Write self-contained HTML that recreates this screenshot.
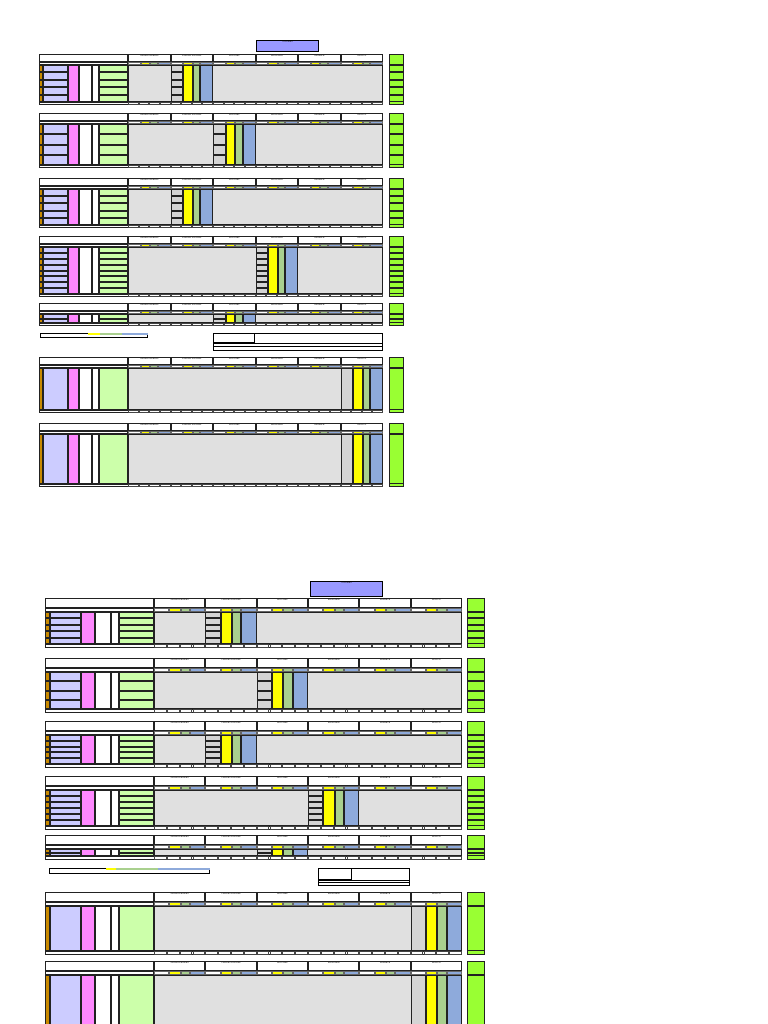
<!DOCTYPE html>
<html><head><meta charset="utf-8"><style>
html,body{margin:0;padding:0;background:#fff;width:768px;height:1024px;overflow:hidden;position:relative;font-family:"Liberation Sans",sans-serif}
div.b{position:absolute;box-sizing:border-box}
</style></head><body>
<script>
function R(x,y,w,h,bg,bd,txt,fs){var d=document.createElement('div');d.className='b';d.style.left=x+'px';d.style.top=y+'px';d.style.width=w+'px';d.style.height=h+'px';if(bg)d.style.background=bg;if(bd)d.style.border=bd;if(txt){d.textContent=txt;d.style.fontSize=(fs||2)+'px';d.style.lineHeight=(fs||2)+'px';d.style.textAlign='center';d.style.overflow='hidden';d.style.color='#333';}document.body.appendChild(d);return d;}
var TITLES=['MEMBERDAYAKAN','STANDAR ESENSIAL','MENYIMAK','BERBICARA','MEMBACA','MENULIS'];
function block(x,y,w,h,rows,hl,gx,gw,s){
 var hdrTop=Math.round(8*s),hdrSub=Math.round(3*s),foot=Math.round(3*s);
 var B='1px solid #222';
 R(x,y,w,h,'#fff',B);
 var fr=[0.012,0.074,0.033,0.038,0.02,0.085];var cols=['#c98a00','#ccccff','#ff88ff','#fff','#fff','#ccffaa'];
 var cx=x,lefts=[];for(var i=0;i<fr.length;i++){var cw=Math.round(fr[i]*w);lefts.push([cx,cw]);cx+=cw;}
 var gx0=cx,gwid=x+w-cx,sw=gwid/6;
 var top=y+hdrTop+hdrSub,bodyH=h-hdrTop-hdrSub-foot;
 R(x,y,gx0-x,hdrTop,'#fff',B);
 for(var k=0;k<6;k++){R(gx0+k*sw,y,sw,hdrTop,'#fff',B,TITLES[k],2);
  var sc=['#fff','#ffff00','#a9d08e','#8eaadb'],sf=[0.3,0.22,0.18,0.3],px=gx0+k*sw;
  for(var j=0;j<4;j++){R(px,y+hdrTop,sw*sf[j],hdrSub,sc[j],'1px solid #666');px+=sw*sf[j];}}
 R(x,y+hdrTop,gx0-x,hdrSub,'#fff',B);
 R(gx0,top,gwid,bodyH,'#e0e0e0',B);
 var rh=bodyH/rows;
 for(var i=0;i<lefts.length;i++){var L=lefts[i];
  if(i==2||i==3||i==4){R(L[0],top,L[1],bodyH,cols[i],B);}
  else{for(var r=0;r<rows;r++)R(L[0],top+r*rh,L[1],rh,cols[i],B);}}
 var hx=gx0+hl*sw;
 var sf2=[0.3,0.22,0.18,0.3],scol=['#d4d4d4','#ffff00','#a9d08e','#8eaadb'],px=hx;
 for(var j=0;j<4;j++){var ww=sw*sf2[j];if(rows>1&&j==0){for(var r=0;r<rows;r++)R(px,top+r*rh,ww,rh,scol[j],B);}else R(px,top,ww,bodyH,scol[j],B);px+=ww;}
 R(x,y+h-foot,w,foot,'#fff',B);
 for(var k=0;k<24;k++)R(gx0+k*sw/4,y+h-foot,sw/4,foot,null,'1px solid #444');
 R(gx,y,gw,h,'#99ff33',B);
 R(gx,y,gw,hdrTop+hdrSub,'#99ff33',B);
 for(var r=0;r<rows;r++)R(gx,top+r*rh,gw,rh,null,B);
}
R(256,40,63,12,'#9999ff','1px solid #000','PENILAIAN',2);
block(39,54,344,51,5,1,389,15,1);
block(39,113,344,55,4,2,389,15,1);
block(39,178,344,50,5,1,389,15,1);
block(39,236,344,61,8,3,389,15,1);
block(39,303,344,23,2,2,389,15,1);
block(39,357,344,56,1,5,389,15,1);
block(39,423,344,64,1,5,389,15,1);
R(40,333,108,5,'#fff','1px solid #000');R(88,333,12,2,'#ffff00');R(100,333,22,2,'#a9d08e');R(122,333,26,2,'#8eaadb');
R(213,333,170,18,'#fff','1px solid #000');R(213,333,42,10,null,'1px solid #000');R(213,343,170,4,null,'1px solid #000');
R(310,581,73,16,'#9999ff','1px solid #000','PENILAIAN',2);
block(45,598,417,50,5,1,467,18,1.2);
block(45,658,417,55,4,2,467,18,1.2);
block(45,721,417,47,5,1,467,18,1.2);
block(45,776,417,54,6,3,467,18,1.2);
block(45,835,417,25,2,2,467,18,1.2);
block(45,892,417,63,1,5,467,18,1.2);
block(45,961,417,70,1,5,467,18,1.2);
R(49,868,161,6,'#fff','1px solid #000');R(106,868,10,2,'#ffff00');R(116,868,42,2,'#a9d08e');R(158,868,52,2,'#8eaadb');
R(318,868,92,18,'#fff','1px solid #000');R(318,868,34,12,null,'1px solid #000');R(318,880,92,3,null,'1px solid #000');
</script>
</body></html>
